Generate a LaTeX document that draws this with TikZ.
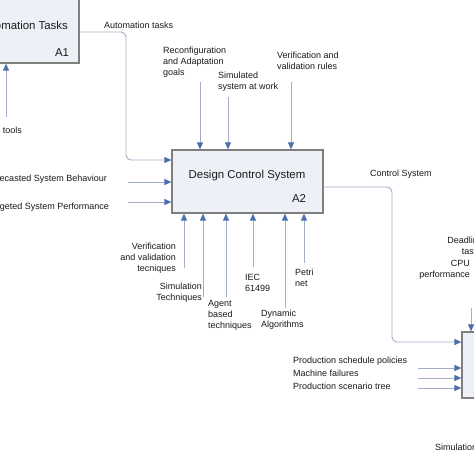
\documentclass[tikz,border=0pt]{standalone}
\usepackage{fontspec}
\setmainfont{Liberation Sans}
\usetikzlibrary{arrows.meta}
\definecolor{boxfill}{HTML}{EDF0F6}
\definecolor{boxline}{HTML}{7F7F7F}
\definecolor{lineC}{HTML}{A3AFC8}
\definecolor{tipC}{HTML}{4D6FAD}
\definecolor{txt}{HTML}{1A1A1A}
\tikzset{
  actbox/.style={draw=boxline, line width=1.2pt, fill=boxfill, inner sep=0pt},
  conn/.style={draw=lineC, line width=0.9pt, -{Triangle[length=7pt,width=6pt,color=tipC]}},
  title/.style={font=\fontsize{11.4}{13}\selectfont, text=txt, inner sep=0pt},
  lbl/.style={font=\fontsize{9}{11}\selectfont, text=txt, inner sep=0pt},
}
\begin{document}
\begin{tikzpicture}[x=1pt,y=-1pt]
\fill[white] (0,0) rectangle (474,474);
\useasboundingbox (0,0) rectangle (474,474);
\clip (0,0) rectangle (474,474);

% boxes
\node[actbox, minimum width=139pt, minimum height=68pt] (a1) at (9.5,29) {};
\node[actbox, minimum width=151pt, minimum height=63pt] (a2) at (247.5,181.5) {};
\node[actbox, minimum width=83pt, minimum height=66pt] (a3) at (503.5,365) {};

\node[title, anchor=base east] (a1t) at (68,29) {Automation Tasks};
\node[title, anchor=base] (a1n) at (62,56) {A1};
\node[title, anchor=base] (a2t) at (247,178) {Design Control System};
\node[title, anchor=base] (a2n) at (299,202) {A2};

% labels
\node[lbl, anchor=north west] (lauto) at (104,22) {Automation tasks};
\node[lbl, anchor=north east] (ltools) at (22,127) {tools};
\node[lbl, anchor=north west, align=left] (lrec) at (163,47) {Reconfiguration\\and Adaptation\\goals};
\node[lbl, anchor=north west, align=left] (lsim) at (218,72) {Simulated\\system at work};
\node[lbl, anchor=north west, align=left] (lver) at (277,52) {Verification and\\validation rules};
\node[lbl, anchor=north east] (lfor) at (107,175) {Forecasted System Behaviour};
\node[lbl, anchor=north east] (ltar) at (109,203) {Targeted System Performance};
\node[lbl, anchor=north east, align=right] (lvt) at (176,243) {Verification\\and validation\\tecniques};
\node[lbl, anchor=north east, align=right] (lst) at (202,283) {Simulation\\Techniques};
\node[lbl, anchor=north west, align=left] (lag) at (208,300) {Agent\\based\\techniques};
\node[lbl, anchor=north west, align=left] (liec) at (245,274) {IEC\\61499};
\node[lbl, anchor=north west, align=left] (ldyn) at (261,310) {Dynamic\\Algorithms};
\node[lbl, anchor=north west, align=left] (lpet) at (295,269) {Petri\\net};
\node[lbl, anchor=north west] (lcs) at (370,170) {Control System};
\node[lbl, anchor=north east, align=right] (ldead) at (483,237) {Deadline\\tasks};
\node[lbl, anchor=north east, align=right] (lcpu) at (470,260) {CPU\\performance};
\node[lbl, anchor=north west] (lpsp) at (293,357) {Production schedule policies};
\node[lbl, anchor=north west] (lmf) at (293,370) {Machine failures};
\node[lbl, anchor=north west] (lpst) at (293,383) {Production scenario tree};
\node[lbl, anchor=north west] (lsimu) at (435,444) {Simulation};

% free ends
\coordinate (ctools) at (6,117);
\coordinate (t1) at (200,82);
\coordinate (t2) at (228,97);
\coordinate (t3) at (291,82);
\coordinate (l1) at (128,182);
\coordinate (l2) at (128,202);
\coordinate (b1) at (184,268);
\coordinate (b2) at (203,297);
\coordinate (b3) at (226,297);
\coordinate (b4) at (253,267);
\coordinate (b5) at (285,308);
\coordinate (b6) at (304,263);
\coordinate (d1) at (471,308);
\coordinate (p1) at (418,368);
\coordinate (p2) at (418,378);
\coordinate (p3) at (418,388);
\coordinate (o1) at (79,32);
\coordinate (o2) at (323,187);

% connectors
\draw[conn] (ctools) -- (ctools |- a1.south);
\draw[conn, rounded corners=5pt] (o1) -- (126,32) -- (126,160) -- (a2.west |- 0,160);
\draw[conn, rounded corners=5pt] (o2) -- (392,187) -- (392,342) -- (a3.west |- 0,342);
\foreach \c in {t1,t2,t3} \draw[conn] (\c) -- (\c |- a2.north);
\foreach \c in {l1,l2} \draw[conn] (\c) -- (\c -| a2.west);
\foreach \c in {b1,b2,b3,b4,b5,b6} \draw[conn] (\c) -- (\c |- a2.south);
\draw[conn] (d1) -- (d1 |- a3.north);
\foreach \c in {p1,p2,p3} \draw[conn] (\c) -- (\c -| a3.west);
\end{tikzpicture}
\end{document}
